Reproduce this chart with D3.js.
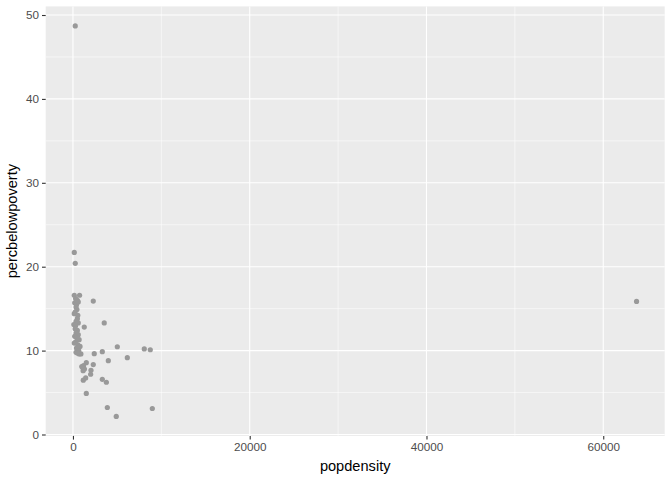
<!DOCTYPE html>
<html><head><meta charset="utf-8">
<script src="https://cdn.jsdelivr.net/npm/d3@7"></script>
<style>body{margin:0;background:#fff}svg{display:block}</style>
</head><body>
<svg id="chart" width="672" height="480"></svg>
<script>
const popdensity = [150,260,150,750,2300,300,500,200,400,600,350,450,250,150,550,500,350,600,100,300,1280,3540,250,500,350,600,200,450,700,300,150,550,800,400,650,350,700,900,500,3320,5020,8070,8750,2410,6150,4000,2300,1510,1200,1100,1300,1150,1000,2040,2000,1440,1170,3320,3780,1510,3890,4900,8980,260,63770];
const percbelowpoverty = [21.7,20.4,16.6,16.6,15.9,16.2,16.0,15.7,15.5,15.8,15.2,14.9,14.6,14.4,14.2,13.8,13.5,13.3,13.1,13.0,12.8,13.3,12.6,12.4,12.1,11.9,11.7,11.5,11.3,11.0,10.9,10.7,10.5,10.3,10.0,9.8,9.6,9.6,9.7,9.87,10.46,10.2,10.1,9.63,9.16,8.8,8.33,8.56,8.2,8.0,7.8,7.6,8.1,7.65,7.18,6.74,6.47,6.58,6.23,4.89,3.22,2.16,3.1,48.7,15.86];
const xTicks = [0,20000,40000,60000];
const yTicks = [0,10,20,30,40,50];
const xTitle = "popdensity", yTitle = "percbelowpoverty";

const data = popdensity.map((x,i)=>({x, y: percbelowpoverty[i]}));
const svg = d3.select("#chart");
const P = {left:45.7, right:664.7, top:6.4, bottom:435.9};

function expand(ext){const r=ext[1]-ext[0];return [ext[0]-0.05*r, ext[1]+0.05*r];}
const x = d3.scaleLinear().domain(expand(d3.extent(popdensity))).range([P.left,P.right]);
const y = d3.scaleLinear().domain(expand(d3.extent(percbelowpoverty))).range([P.bottom,P.top]);

svg.append("rect").attr("x",P.left).attr("y",P.top).attr("width",P.right-P.left).attr("height",P.bottom-P.top).attr("fill","#EBEBEB");

// minor grid
const xMinor = xTicks.slice(0,-1).map((d,i)=>(d+xTicks[i+1])/2);
xMinor.push(xTicks[xTicks.length-1]+(xTicks[1]-xTicks[0])/2);
const yMinor = yTicks.slice(0,-1).map((d,i)=>(d+yTicks[i+1])/2);
const g = svg.append("g");
g.selectAll(".xm").data(xMinor.filter(v=>x(v)<P.right)).join("line").attr("x1",d=>x(d)).attr("x2",d=>x(d)).attr("y1",P.top).attr("y2",P.bottom).attr("stroke","#fff").attr("stroke-width",0.55);
g.selectAll(".ym").data(yMinor).join("line").attr("y1",d=>y(d)).attr("y2",d=>y(d)).attr("x1",P.left).attr("x2",P.right).attr("stroke","#fff").attr("stroke-width",0.55);
g.selectAll(".xM").data(xTicks).join("line").attr("x1",d=>x(d)).attr("x2",d=>x(d)).attr("y1",P.top).attr("y2",P.bottom).attr("stroke","#fff").attr("stroke-width",1.1);
g.selectAll(".yM").data(yTicks).join("line").attr("y1",d=>y(d)).attr("y2",d=>y(d)).attr("x1",P.left).attr("x2",P.right).attr("stroke","#fff").attr("stroke-width",1.1);

// points
svg.append("g").selectAll("circle").data(data).join("circle")
  .attr("cx",d=>x(d.x)).attr("cy",d=>y(d.y)).attr("r",2.6).attr("fill","#999999");

// axes
const xAxis = svg.append("g").attr("transform",`translate(0,${P.bottom})`)
  .call(d3.axisBottom(x).tickValues(xTicks).tickFormat(d3.format("d")).tickSize(3.7).tickPadding(3));
const yAxis = svg.append("g").attr("transform",`translate(${P.left},0)`)
  .call(d3.axisLeft(y).tickValues(yTicks).tickSize(3.7).tickPadding(3));
[xAxis,yAxis].forEach(a=>{
  a.select(".domain").remove();
  a.selectAll(".tick line").attr("stroke","#333333").attr("stroke-width",1.1);
  a.selectAll(".tick text").attr("fill","#4D4D4D").style("font-family","Liberation Sans, Arial, sans-serif").style("font-size","11.7px");
});

svg.append("text").attr("x",(P.left+P.right)/2).attr("y",471).attr("text-anchor","middle")
  .style("font-family","Liberation Sans, Arial, sans-serif").style("font-size","14.6px").attr("fill","#000").text(xTitle);
svg.append("text").attr("transform",`translate(17,${(P.top+P.bottom)/2}) rotate(-90)`).attr("text-anchor","middle")
  .style("font-family","Liberation Sans, Arial, sans-serif").style("font-size","14.6px").attr("fill","#000").text(yTitle);
</script>
</body></html>
